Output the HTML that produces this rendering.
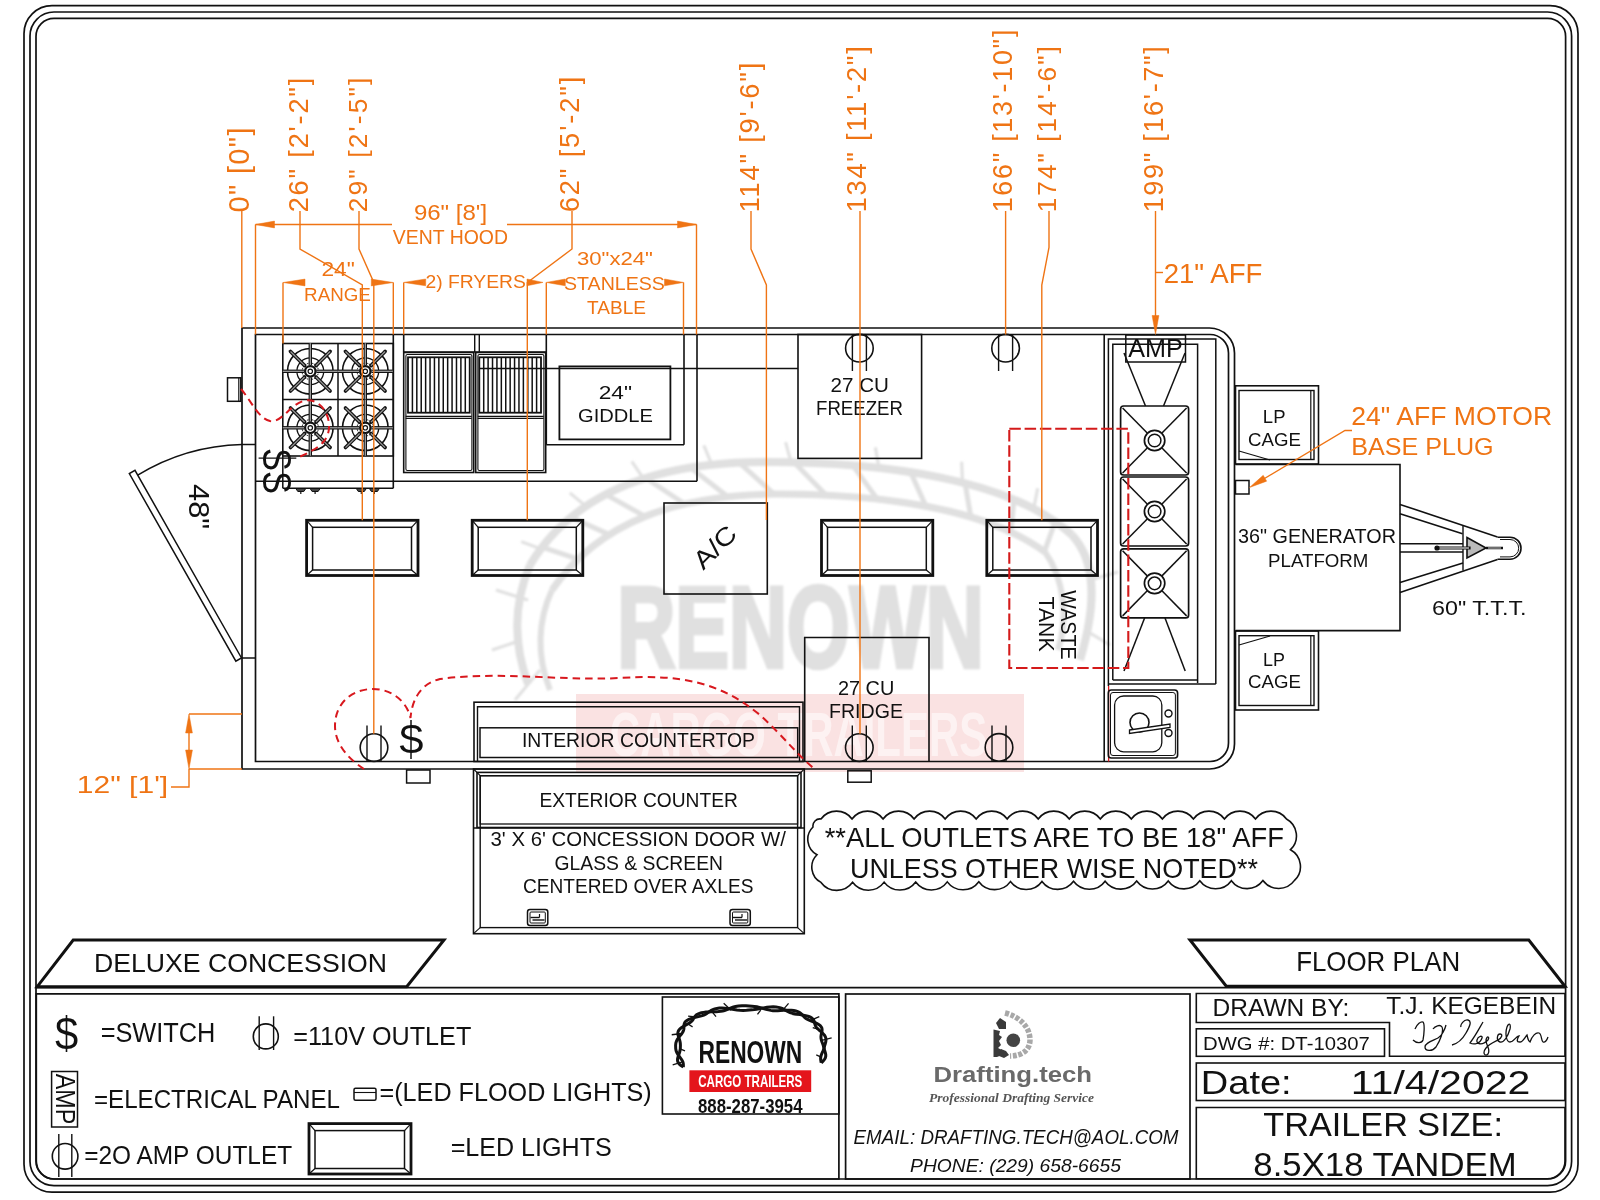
<!DOCTYPE html>
<html><head><meta charset="utf-8"><style>
html,body{margin:0;padding:0;background:#fff;}
svg{display:block;will-change:transform;}
</style></head><body>
<svg width="1600" height="1200" viewBox="0 0 1600 1200">
<rect width="1600" height="1200" fill="#fff"/>
<rect x="576" y="694" width="448" height="78" rx="0" fill="#fae2e2" stroke="#111" stroke-width="0" />
<text x="609.87" y="755.5" font-family="Liberation Sans" font-size="62.5" font-weight="bold" font-style="normal" fill="#fdf2f2" textLength="377.25" lengthAdjust="spacingAndGlyphs">CARGO TRAILERS</text>
<g filter="url(#wmblur)">
<defs><filter id="wmblur" x="-5%" y="-5%" width="110%" height="110%"><feGaussianBlur stdDeviation="0.8"/></filter></defs>
<text x="617.26" y="667" font-family="Liberation Sans" font-size="114.83" font-weight="bold" font-style="normal" fill="#e0e0e0" stroke="#e0e0e0" stroke-width="4.5" textLength="366.48" lengthAdjust="spacingAndGlyphs">RENOWN</text>
</g>
<g filter="url(#wmblur)" stroke-linejoin="round">
<path d="M530,565 C575,490 660,462 765,462 C880,462 1010,478 1072,535" fill="none" stroke="#e0e0e0" stroke-width="8" />
<path d="M552,590 C600,520 680,495 775,494 C880,494 985,508 1045,552" fill="none" stroke="#e0e0e0" stroke-width="7" />
<line x1="542.07" y1="547.22" x2="578.01" y2="559.21" stroke="#e0e0e0" stroke-width="5" />
<line x1="570.94" y1="517.27" x2="609.36" y2="534.65" stroke="#e0e0e0" stroke-width="5" />
<line x1="605.64" y1="494.35" x2="645.12" y2="516.43" stroke="#e0e0e0" stroke-width="5" />
<line x1="645.61" y1="477.96" x2="684.8" y2="503.97" stroke="#e0e0e0" stroke-width="5" />
<line x1="690.31" y1="467.55" x2="727.93" y2="496.69" stroke="#e0e0e0" stroke-width="5" />
<line x1="739.18" y1="462.59" x2="774.05" y2="494.01" stroke="#e0e0e0" stroke-width="5" />
<line x1="794.01" y1="462.35" x2="826.25" y2="495.19" stroke="#e0e0e0" stroke-width="5" />
<line x1="852.77" y1="465.39" x2="877.33" y2="499.15" stroke="#e0e0e0" stroke-width="5" />
<line x1="910.56" y1="472.14" x2="925.94" y2="506.32" stroke="#e0e0e0" stroke-width="5" />
<line x1="965.09" y1="483.3" x2="970.82" y2="517.15" stroke="#e0e0e0" stroke-width="5" />
<line x1="1014.05" y1="499.55" x2="1010.72" y2="532.08" stroke="#e0e0e0" stroke-width="5" />
<line x1="1055.13" y1="521.59" x2="1044.4" y2="551.56" stroke="#e0e0e0" stroke-width="5" />
<line x1="540.79" y1="548.91" x2="521.23" y2="541.6" stroke="#e0e0e0" stroke-width="3" />
<line x1="585.86" y1="506.12" x2="569.79" y2="492.79" stroke="#e0e0e0" stroke-width="3" />
<line x1="643.5" y1="478.63" x2="631.73" y2="461.38" stroke="#e0e0e0" stroke-width="3" />
<line x1="711.82" y1="464.67" x2="703.8" y2="445.4" stroke="#e0e0e0" stroke-width="3" />
<line x1="791.09" y1="462.28" x2="785.56" y2="442.15" stroke="#e0e0e0" stroke-width="3" />
<line x1="879.03" y1="467.93" x2="875.35" y2="447.37" stroke="#e0e0e0" stroke-width="3" />
<line x1="962.47" y1="482.62" x2="961.66" y2="461.76" stroke="#e0e0e0" stroke-width="3" />
<line x1="1033.65" y1="508.71" x2="1037.7" y2="488.22" stroke="#e0e0e0" stroke-width="3" />
<path d="M530,565 C515,600 512,640 528,684" fill="none" stroke="#e0e0e0" stroke-width="8" />
<path d="M552,590 C538,620 536,655 550,690" fill="none" stroke="#e0e0e0" stroke-width="6" />
<line x1="528" y1="600" x2="496" y2="590" stroke="#e0e0e0" stroke-width="3" />
<line x1="522" y1="640" x2="492" y2="650" stroke="#e0e0e0" stroke-width="3" />
<line x1="540" y1="670" x2="515" y2="700" stroke="#e0e0e0" stroke-width="3" />
<path d="M1072,535 C1095,560 1098,600 1080,660" fill="none" stroke="#e0e0e0" stroke-width="8" />
<path d="M1045,552 C1065,580 1068,620 1058,650" fill="none" stroke="#e0e0e0" stroke-width="6" />
<line x1="1090" y1="580" x2="1118" y2="572" stroke="#e0e0e0" stroke-width="3" />
<line x1="1085" y1="630" x2="1110" y2="645" stroke="#e0e0e0" stroke-width="3" />
</g>
<rect x="24" y="5.6" width="1554" height="1186.6" rx="28" fill="none" stroke="#111" stroke-width="1.7" />
<rect x="30" y="12" width="1541.6" height="1173.6" rx="24" fill="none" stroke="#111" stroke-width="1.7" />
<rect x="36" y="18.4" width="1529.6" height="1160.6" rx="18" fill="none" stroke="#111" stroke-width="1.7" />
<path d="M242,328 H1209.5 A25,25 0 0 1 1234.5,353 V744 A25,25 0 0 1 1209.5,769 H242 Z" fill="none" stroke="#111" stroke-width="1.7" />
<path d="M255.5,334.5 H1210 A18.5,18.5 0 0 1 1228.5,353 V743 A18.5,18.5 0 0 1 1210,761.5 H255.5 Z" fill="none" stroke="#111" stroke-width="1.7" />
<line x1="242" y1="444.5" x2="255.5" y2="444.5" stroke="#111" stroke-width="1.5" />
<line x1="242" y1="658" x2="255.5" y2="658" stroke="#111" stroke-width="1.5" />
<path d="M242,444.5 A210.5,210.5 0 0 0 137.71,475.15" fill="none" stroke="#111" stroke-width="1.5" />
<path d="M241.5,658 L134.99,470.37 L129.34,473.59 L235.85,661.22 Z" fill="none" stroke="#111" stroke-width="1.5" />
<rect x="227.5" y="377.8" width="13.3" height="23.5" rx="0" fill="none" stroke="#111" stroke-width="1.5" />
<line x1="238.8" y1="377.8" x2="238.8" y2="401.3" stroke="#111" stroke-width="1.2" />
<line x1="282.8" y1="334.5" x2="282.8" y2="343.5" stroke="#111" stroke-width="1.5" />
<rect x="282.8" y="343.5" width="110.5" height="112.5" rx="0" fill="none" stroke="#111" stroke-width="1.6" />
<line x1="338" y1="343.5" x2="338" y2="456" stroke="#111" stroke-width="1.5" />
<line x1="282.8" y1="399.5" x2="393.3" y2="399.5" stroke="#111" stroke-width="1.5" />
<line x1="393.3" y1="334.5" x2="393.3" y2="488.3" stroke="#111" stroke-width="1.6" />
<line x1="282.8" y1="456" x2="282.8" y2="488.3" stroke="#111" stroke-width="1.5" />
<line x1="282.8" y1="488.3" x2="393.3" y2="488.3" stroke="#111" stroke-width="1.6" />
<line x1="255.5" y1="481.3" x2="697" y2="481.3" stroke="#111" stroke-width="1.6" />
<line x1="697" y1="334.5" x2="697" y2="481.3" stroke="#111" stroke-width="1.6" />
<path d="M295.8,488.5 L305.8,488.5 L303.8,491.5 L297.8,491.5 Z" fill="#444" stroke="#111" stroke-width="1.0" />
<line x1="300.8" y1="491.5" x2="300.8" y2="494" stroke="#111" stroke-width="1.2" />
<path d="M310.1,488.5 L320.1,488.5 L318.1,491.5 L312.1,491.5 Z" fill="#444" stroke="#111" stroke-width="1.0" />
<line x1="315.1" y1="491.5" x2="315.1" y2="494" stroke="#111" stroke-width="1.2" />
<path d="M356.3,488.5 L366.3,488.5 L364.3,491.5 L358.3,491.5 Z" fill="#444" stroke="#111" stroke-width="1.0" />
<line x1="361.3" y1="491.5" x2="361.3" y2="494" stroke="#111" stroke-width="1.2" />
<path d="M369.4,488.5 L379.4,488.5 L377.4,491.5 L371.4,491.5 Z" fill="#444" stroke="#111" stroke-width="1.0" />
<line x1="374.4" y1="491.5" x2="374.4" y2="494" stroke="#111" stroke-width="1.2" />
<circle cx="310.3" cy="371.3" r="22.8" fill="none" stroke="#111" stroke-width="1.6" />
<circle cx="310.3" cy="371.3" r="13.4" fill="none" stroke="#111" stroke-width="1.3" />
<circle cx="310.3" cy="371.3" r="8.2" fill="none" stroke="#111" stroke-width="1.0" stroke-dasharray="1.5 1"/>
<line x1="282.8" y1="371.3" x2="304.3" y2="371.3" stroke="#111" stroke-width="3.4" />
<line x1="282.8" y1="371.3" x2="304.3" y2="371.3" stroke="#aaa" stroke-width="1.2" />
<line x1="316.3" y1="371.3" x2="337.8" y2="371.3" stroke="#111" stroke-width="3.4" />
<line x1="316.3" y1="371.3" x2="337.8" y2="371.3" stroke="#aaa" stroke-width="1.2" />
<line x1="310.3" y1="343.3" x2="310.3" y2="365.3" stroke="#111" stroke-width="3.4" />
<line x1="310.3" y1="343.3" x2="310.3" y2="365.3" stroke="#aaa" stroke-width="1.2" />
<line x1="310.3" y1="377.3" x2="310.3" y2="399.3" stroke="#111" stroke-width="3.4" />
<line x1="310.3" y1="377.3" x2="310.3" y2="399.3" stroke="#aaa" stroke-width="1.2" />
<line x1="315.96" y1="376.96" x2="330.1" y2="391.1" stroke="#111" stroke-width="3.6" stroke-linecap="round"/>
<line x1="315.96" y1="376.96" x2="330.1" y2="391.1" stroke="#999" stroke-width="1.3" />
<line x1="304.64" y1="376.96" x2="290.5" y2="391.1" stroke="#111" stroke-width="3.6" stroke-linecap="round"/>
<line x1="304.64" y1="376.96" x2="290.5" y2="391.1" stroke="#999" stroke-width="1.3" />
<line x1="304.64" y1="365.64" x2="290.5" y2="351.5" stroke="#111" stroke-width="3.6" stroke-linecap="round"/>
<line x1="304.64" y1="365.64" x2="290.5" y2="351.5" stroke="#999" stroke-width="1.3" />
<line x1="315.96" y1="365.64" x2="330.1" y2="351.5" stroke="#111" stroke-width="3.6" stroke-linecap="round"/>
<line x1="315.96" y1="365.64" x2="330.1" y2="351.5" stroke="#999" stroke-width="1.3" />
<circle cx="310.3" cy="371.3" r="5.2" fill="none" stroke="#111" stroke-width="2.2" />
<circle cx="310.3" cy="371.3" r="2.2" fill="#fff" stroke="#111" stroke-width="1.2" />
<circle cx="365.3" cy="371.3" r="22.8" fill="none" stroke="#111" stroke-width="1.6" />
<circle cx="365.3" cy="371.3" r="13.4" fill="none" stroke="#111" stroke-width="1.3" />
<circle cx="365.3" cy="371.3" r="8.2" fill="none" stroke="#111" stroke-width="1.0" stroke-dasharray="1.5 1"/>
<line x1="337.8" y1="371.3" x2="359.3" y2="371.3" stroke="#111" stroke-width="3.4" />
<line x1="337.8" y1="371.3" x2="359.3" y2="371.3" stroke="#aaa" stroke-width="1.2" />
<line x1="371.3" y1="371.3" x2="392.8" y2="371.3" stroke="#111" stroke-width="3.4" />
<line x1="371.3" y1="371.3" x2="392.8" y2="371.3" stroke="#aaa" stroke-width="1.2" />
<line x1="365.3" y1="343.3" x2="365.3" y2="365.3" stroke="#111" stroke-width="3.4" />
<line x1="365.3" y1="343.3" x2="365.3" y2="365.3" stroke="#aaa" stroke-width="1.2" />
<line x1="365.3" y1="377.3" x2="365.3" y2="399.3" stroke="#111" stroke-width="3.4" />
<line x1="365.3" y1="377.3" x2="365.3" y2="399.3" stroke="#aaa" stroke-width="1.2" />
<line x1="370.96" y1="376.96" x2="385.1" y2="391.1" stroke="#111" stroke-width="3.6" stroke-linecap="round"/>
<line x1="370.96" y1="376.96" x2="385.1" y2="391.1" stroke="#999" stroke-width="1.3" />
<line x1="359.64" y1="376.96" x2="345.5" y2="391.1" stroke="#111" stroke-width="3.6" stroke-linecap="round"/>
<line x1="359.64" y1="376.96" x2="345.5" y2="391.1" stroke="#999" stroke-width="1.3" />
<line x1="359.64" y1="365.64" x2="345.5" y2="351.5" stroke="#111" stroke-width="3.6" stroke-linecap="round"/>
<line x1="359.64" y1="365.64" x2="345.5" y2="351.5" stroke="#999" stroke-width="1.3" />
<line x1="370.96" y1="365.64" x2="385.1" y2="351.5" stroke="#111" stroke-width="3.6" stroke-linecap="round"/>
<line x1="370.96" y1="365.64" x2="385.1" y2="351.5" stroke="#999" stroke-width="1.3" />
<circle cx="365.3" cy="371.3" r="5.2" fill="none" stroke="#111" stroke-width="2.2" />
<circle cx="365.3" cy="371.3" r="2.2" fill="#fff" stroke="#111" stroke-width="1.2" />
<circle cx="310.3" cy="427.8" r="22.8" fill="none" stroke="#111" stroke-width="1.6" />
<circle cx="310.3" cy="427.8" r="13.4" fill="none" stroke="#111" stroke-width="1.3" />
<circle cx="310.3" cy="427.8" r="8.2" fill="none" stroke="#111" stroke-width="1.0" stroke-dasharray="1.5 1"/>
<line x1="282.8" y1="427.8" x2="304.3" y2="427.8" stroke="#111" stroke-width="3.4" />
<line x1="282.8" y1="427.8" x2="304.3" y2="427.8" stroke="#aaa" stroke-width="1.2" />
<line x1="316.3" y1="427.8" x2="337.8" y2="427.8" stroke="#111" stroke-width="3.4" />
<line x1="316.3" y1="427.8" x2="337.8" y2="427.8" stroke="#aaa" stroke-width="1.2" />
<line x1="310.3" y1="399.8" x2="310.3" y2="421.8" stroke="#111" stroke-width="3.4" />
<line x1="310.3" y1="399.8" x2="310.3" y2="421.8" stroke="#aaa" stroke-width="1.2" />
<line x1="310.3" y1="433.8" x2="310.3" y2="455.8" stroke="#111" stroke-width="3.4" />
<line x1="310.3" y1="433.8" x2="310.3" y2="455.8" stroke="#aaa" stroke-width="1.2" />
<line x1="315.96" y1="433.46" x2="330.1" y2="447.6" stroke="#111" stroke-width="3.6" stroke-linecap="round"/>
<line x1="315.96" y1="433.46" x2="330.1" y2="447.6" stroke="#999" stroke-width="1.3" />
<line x1="304.64" y1="433.46" x2="290.5" y2="447.6" stroke="#111" stroke-width="3.6" stroke-linecap="round"/>
<line x1="304.64" y1="433.46" x2="290.5" y2="447.6" stroke="#999" stroke-width="1.3" />
<line x1="304.64" y1="422.14" x2="290.5" y2="408" stroke="#111" stroke-width="3.6" stroke-linecap="round"/>
<line x1="304.64" y1="422.14" x2="290.5" y2="408" stroke="#999" stroke-width="1.3" />
<line x1="315.96" y1="422.14" x2="330.1" y2="408" stroke="#111" stroke-width="3.6" stroke-linecap="round"/>
<line x1="315.96" y1="422.14" x2="330.1" y2="408" stroke="#999" stroke-width="1.3" />
<circle cx="310.3" cy="427.8" r="5.2" fill="none" stroke="#111" stroke-width="2.2" />
<circle cx="310.3" cy="427.8" r="2.2" fill="#fff" stroke="#111" stroke-width="1.2" />
<circle cx="365.3" cy="427.8" r="22.8" fill="none" stroke="#111" stroke-width="1.6" />
<circle cx="365.3" cy="427.8" r="13.4" fill="none" stroke="#111" stroke-width="1.3" />
<circle cx="365.3" cy="427.8" r="8.2" fill="none" stroke="#111" stroke-width="1.0" stroke-dasharray="1.5 1"/>
<line x1="337.8" y1="427.8" x2="359.3" y2="427.8" stroke="#111" stroke-width="3.4" />
<line x1="337.8" y1="427.8" x2="359.3" y2="427.8" stroke="#aaa" stroke-width="1.2" />
<line x1="371.3" y1="427.8" x2="392.8" y2="427.8" stroke="#111" stroke-width="3.4" />
<line x1="371.3" y1="427.8" x2="392.8" y2="427.8" stroke="#aaa" stroke-width="1.2" />
<line x1="365.3" y1="399.8" x2="365.3" y2="421.8" stroke="#111" stroke-width="3.4" />
<line x1="365.3" y1="399.8" x2="365.3" y2="421.8" stroke="#aaa" stroke-width="1.2" />
<line x1="365.3" y1="433.8" x2="365.3" y2="455.8" stroke="#111" stroke-width="3.4" />
<line x1="365.3" y1="433.8" x2="365.3" y2="455.8" stroke="#aaa" stroke-width="1.2" />
<line x1="370.96" y1="433.46" x2="385.1" y2="447.6" stroke="#111" stroke-width="3.6" stroke-linecap="round"/>
<line x1="370.96" y1="433.46" x2="385.1" y2="447.6" stroke="#999" stroke-width="1.3" />
<line x1="359.64" y1="433.46" x2="345.5" y2="447.6" stroke="#111" stroke-width="3.6" stroke-linecap="round"/>
<line x1="359.64" y1="433.46" x2="345.5" y2="447.6" stroke="#999" stroke-width="1.3" />
<line x1="359.64" y1="422.14" x2="345.5" y2="408" stroke="#111" stroke-width="3.6" stroke-linecap="round"/>
<line x1="359.64" y1="422.14" x2="345.5" y2="408" stroke="#999" stroke-width="1.3" />
<line x1="370.96" y1="422.14" x2="385.1" y2="408" stroke="#111" stroke-width="3.6" stroke-linecap="round"/>
<line x1="370.96" y1="422.14" x2="385.1" y2="408" stroke="#999" stroke-width="1.3" />
<circle cx="365.3" cy="427.8" r="5.2" fill="none" stroke="#111" stroke-width="2.2" />
<circle cx="365.3" cy="427.8" r="2.2" fill="#fff" stroke="#111" stroke-width="1.2" />
<text x="0" y="0" font-family="Liberation Sans" font-size="41" fill="#111" transform="translate(263 448) rotate(90)" textLength="46" lengthAdjust="spacingAndGlyphs">SS</text>
<line x1="258.6" y1="458.1" x2="296.3" y2="458.1" stroke="#111" stroke-width="1.4" />
<line x1="403.7" y1="334.5" x2="403.7" y2="352" stroke="#111" stroke-width="1.6" />
<line x1="474.7" y1="334.5" x2="474.7" y2="352" stroke="#111" stroke-width="1.4" />
<line x1="479.3" y1="334.5" x2="479.3" y2="352" stroke="#111" stroke-width="1.4" />
<line x1="546.3" y1="334.5" x2="546.3" y2="444.7" stroke="#111" stroke-width="1.6" />
<line x1="403.7" y1="352" x2="546.3" y2="352" stroke="#111" stroke-width="1.6" />
<rect x="403.7" y="352.5" width="70" height="120" rx="0" fill="none" stroke="#111" stroke-width="1.6" />
<rect x="405.9" y="354.5" width="66" height="116" rx="1.5" fill="none" stroke="#111" stroke-width="1.1" />
<rect x="408" y="357.3" width="61.7" height="55.4" rx="0" fill="none" stroke="#111" stroke-width="1.8" />
<line x1="412.41" y1="358" x2="412.41" y2="412" stroke="#111" stroke-width="1.5" />
<line x1="416.81" y1="358" x2="416.81" y2="412" stroke="#111" stroke-width="1.5" />
<line x1="421.22" y1="358" x2="421.22" y2="412" stroke="#111" stroke-width="1.5" />
<line x1="425.63" y1="358" x2="425.63" y2="412" stroke="#111" stroke-width="1.5" />
<line x1="430.04" y1="358" x2="430.04" y2="412" stroke="#111" stroke-width="1.5" />
<line x1="434.44" y1="358" x2="434.44" y2="412" stroke="#111" stroke-width="1.5" />
<line x1="438.85" y1="358" x2="438.85" y2="412" stroke="#111" stroke-width="1.5" />
<line x1="443.26" y1="358" x2="443.26" y2="412" stroke="#111" stroke-width="1.5" />
<line x1="447.66" y1="358" x2="447.66" y2="412" stroke="#111" stroke-width="1.5" />
<line x1="452.07" y1="358" x2="452.07" y2="412" stroke="#111" stroke-width="1.5" />
<line x1="456.48" y1="358" x2="456.48" y2="412" stroke="#111" stroke-width="1.5" />
<line x1="460.89" y1="358" x2="460.89" y2="412" stroke="#111" stroke-width="1.5" />
<line x1="465.29" y1="358" x2="465.29" y2="412" stroke="#111" stroke-width="1.5" />
<line x1="405.7" y1="416.5" x2="471.7" y2="416.5" stroke="#111" stroke-width="1.3" />
<line x1="405.7" y1="418.5" x2="471.7" y2="418.5" stroke="#111" stroke-width="1.0" />
<rect x="475.7" y="352.5" width="70" height="120" rx="0" fill="none" stroke="#111" stroke-width="1.6" />
<rect x="477.9" y="354.5" width="66" height="116" rx="1.5" fill="none" stroke="#111" stroke-width="1.1" />
<rect x="479.3" y="357.3" width="61.7" height="55.4" rx="0" fill="none" stroke="#111" stroke-width="1.8" />
<line x1="483.71" y1="358" x2="483.71" y2="412" stroke="#111" stroke-width="1.5" />
<line x1="488.11" y1="358" x2="488.11" y2="412" stroke="#111" stroke-width="1.5" />
<line x1="492.52" y1="358" x2="492.52" y2="412" stroke="#111" stroke-width="1.5" />
<line x1="496.93" y1="358" x2="496.93" y2="412" stroke="#111" stroke-width="1.5" />
<line x1="501.34" y1="358" x2="501.34" y2="412" stroke="#111" stroke-width="1.5" />
<line x1="505.74" y1="358" x2="505.74" y2="412" stroke="#111" stroke-width="1.5" />
<line x1="510.15" y1="358" x2="510.15" y2="412" stroke="#111" stroke-width="1.5" />
<line x1="514.56" y1="358" x2="514.56" y2="412" stroke="#111" stroke-width="1.5" />
<line x1="518.96" y1="358" x2="518.96" y2="412" stroke="#111" stroke-width="1.5" />
<line x1="523.37" y1="358" x2="523.37" y2="412" stroke="#111" stroke-width="1.5" />
<line x1="527.78" y1="358" x2="527.78" y2="412" stroke="#111" stroke-width="1.5" />
<line x1="532.19" y1="358" x2="532.19" y2="412" stroke="#111" stroke-width="1.5" />
<line x1="536.59" y1="358" x2="536.59" y2="412" stroke="#111" stroke-width="1.5" />
<line x1="477.7" y1="416.5" x2="543.7" y2="416.5" stroke="#111" stroke-width="1.3" />
<line x1="477.7" y1="418.5" x2="543.7" y2="418.5" stroke="#111" stroke-width="1.0" />
<line x1="479.3" y1="368.4" x2="798" y2="368.4" stroke="#111" stroke-width="1.5" />
<line x1="546.3" y1="444.7" x2="684" y2="444.7" stroke="#111" stroke-width="1.6" />
<line x1="684" y1="334.5" x2="684" y2="444.7" stroke="#111" stroke-width="1.6" />
<rect x="559.4" y="366.4" width="111" height="73" rx="0" fill="none" stroke="#111" stroke-width="1.8" />
<text x="598.66" y="398.5" font-family="Liberation Sans" font-size="18.9" font-weight="normal" font-style="normal" fill="#111" textLength="33.29" lengthAdjust="spacingAndGlyphs">24"</text>
<text x="578.06" y="422" font-family="Liberation Sans" font-size="18.9" font-weight="normal" font-style="normal" fill="#111" textLength="74.89" lengthAdjust="spacingAndGlyphs">GIDDLE</text>
<rect x="798" y="334.5" width="123.6" height="123.9" rx="0" fill="none" stroke="#111" stroke-width="1.6" />
<text x="830.61" y="391.6" font-family="Liberation Sans" font-size="19.77" font-weight="normal" font-style="normal" fill="#111" textLength="58.38" lengthAdjust="spacingAndGlyphs">27 CU</text>
<text x="816.03" y="415" font-family="Liberation Sans" font-size="19.48" font-weight="normal" font-style="normal" fill="#111" textLength="86.95" lengthAdjust="spacingAndGlyphs">FREEZER</text>
<circle cx="859.4" cy="348.2" r="13.8" fill="none" stroke="#111" stroke-width="1.6" />
<line x1="852.4" y1="334.5" x2="852.4" y2="371" stroke="#111" stroke-width="1.4" />
<line x1="866.4" y1="334.5" x2="866.4" y2="371" stroke="#111" stroke-width="1.4" />
<circle cx="1005.6" cy="348.2" r="13.8" fill="none" stroke="#111" stroke-width="1.6" />
<line x1="998.6" y1="334.5" x2="998.6" y2="371" stroke="#111" stroke-width="1.4" />
<line x1="1012.6" y1="334.5" x2="1012.6" y2="371" stroke="#111" stroke-width="1.4" />
<circle cx="374" cy="747.6" r="13.8" fill="none" stroke="#111" stroke-width="1.6" />
<line x1="367" y1="725.5" x2="367" y2="761.5" stroke="#111" stroke-width="1.4" />
<line x1="381" y1="725.5" x2="381" y2="761.5" stroke="#111" stroke-width="1.4" />
<circle cx="859.3" cy="747.6" r="13.8" fill="none" stroke="#111" stroke-width="1.6" />
<line x1="852.3" y1="725.5" x2="852.3" y2="761.5" stroke="#111" stroke-width="1.4" />
<line x1="866.3" y1="725.5" x2="866.3" y2="761.5" stroke="#111" stroke-width="1.4" />
<circle cx="999" cy="747.4" r="13.8" fill="none" stroke="#111" stroke-width="1.6" />
<line x1="992" y1="725.5" x2="992" y2="761.5" stroke="#111" stroke-width="1.4" />
<line x1="1006" y1="725.5" x2="1006" y2="761.5" stroke="#111" stroke-width="1.4" />
<rect x="306.6" y="520.3" width="111.4" height="55.2" rx="0" fill="none" stroke="#111" stroke-width="2.8" />
<rect x="312.6" y="527.3" width="98.9" height="42.7" rx="0" fill="none" stroke="#111" stroke-width="1.5" />
<line x1="306.6" y1="520.3" x2="312.6" y2="527.3" stroke="#111" stroke-width="1.2" />
<line x1="418" y1="520.3" x2="411.5" y2="527.3" stroke="#111" stroke-width="1.2" />
<line x1="306.6" y1="575.5" x2="312.6" y2="570" stroke="#111" stroke-width="1.2" />
<line x1="418" y1="575.5" x2="411.5" y2="570" stroke="#111" stroke-width="1.2" />
<rect x="472.2" y="520.3" width="110.6" height="55.2" rx="0" fill="none" stroke="#111" stroke-width="2.8" />
<rect x="478.2" y="527.3" width="98.1" height="42.7" rx="0" fill="none" stroke="#111" stroke-width="1.5" />
<line x1="472.2" y1="520.3" x2="478.2" y2="527.3" stroke="#111" stroke-width="1.2" />
<line x1="582.8" y1="520.3" x2="576.3" y2="527.3" stroke="#111" stroke-width="1.2" />
<line x1="472.2" y1="575.5" x2="478.2" y2="570" stroke="#111" stroke-width="1.2" />
<line x1="582.8" y1="575.5" x2="576.3" y2="570" stroke="#111" stroke-width="1.2" />
<rect x="821.5" y="520.3" width="111.3" height="55.2" rx="0" fill="none" stroke="#111" stroke-width="2.8" />
<rect x="827.5" y="527.3" width="98.8" height="42.7" rx="0" fill="none" stroke="#111" stroke-width="1.5" />
<line x1="821.5" y1="520.3" x2="827.5" y2="527.3" stroke="#111" stroke-width="1.2" />
<line x1="932.8" y1="520.3" x2="926.3" y2="527.3" stroke="#111" stroke-width="1.2" />
<line x1="821.5" y1="575.5" x2="827.5" y2="570" stroke="#111" stroke-width="1.2" />
<line x1="932.8" y1="575.5" x2="926.3" y2="570" stroke="#111" stroke-width="1.2" />
<rect x="986.8" y="520.3" width="110.7" height="55.2" rx="0" fill="none" stroke="#111" stroke-width="2.8" />
<rect x="992.8" y="527.3" width="98.2" height="42.7" rx="0" fill="none" stroke="#111" stroke-width="1.5" />
<line x1="986.8" y1="520.3" x2="992.8" y2="527.3" stroke="#111" stroke-width="1.2" />
<line x1="1097.5" y1="520.3" x2="1091" y2="527.3" stroke="#111" stroke-width="1.2" />
<line x1="986.8" y1="575.5" x2="992.8" y2="570" stroke="#111" stroke-width="1.2" />
<line x1="1097.5" y1="575.5" x2="1091" y2="570" stroke="#111" stroke-width="1.2" />
<rect x="664" y="503" width="103.3" height="91" rx="0" fill="none" stroke="#111" stroke-width="1.6" />
<text x="0" y="0" font-family="Liberation Sans" font-size="25" fill="#111" text-anchor="middle" transform="translate(721 553) rotate(-45)" textLength="50" lengthAdjust="spacingAndGlyphs">A/C</text>
<path d="M804.7,761.5 V637.5 H929 V761.5" fill="none" stroke="#111" stroke-width="1.6" />
<text x="837.98" y="694.5" font-family="Liberation Sans" font-size="20.35" font-weight="normal" font-style="normal" fill="#111" textLength="56.33" lengthAdjust="spacingAndGlyphs">27 CU</text>
<text x="828.98" y="718.3" font-family="Liberation Sans" font-size="20.35" font-weight="normal" font-style="normal" fill="#111" textLength="74.03" lengthAdjust="spacingAndGlyphs">FRIDGE</text>
<rect x="474" y="702.2" width="329" height="59.3" rx="0" fill="none" stroke="#111" stroke-width="1.6" />
<path d="M477.5,761.5 V706.8 H799.5 V761.5" fill="none" stroke="#111" stroke-width="1.4" />
<rect x="480" y="727.8" width="317.7" height="29.7" rx="0" fill="none" stroke="#111" stroke-width="1.5" />
<text x="521.95" y="747" font-family="Liberation Sans" font-size="21.08" font-weight="normal" font-style="normal" fill="#111" textLength="233.11" lengthAdjust="spacingAndGlyphs">INTERIOR COUNTERTOP</text>
<rect x="473.5" y="769" width="330.8" height="164.7" rx="0" fill="none" stroke="#111" stroke-width="1.6" />
<rect x="480.2" y="775.7" width="317.4" height="151.9" rx="0" fill="none" stroke="#111" stroke-width="1.4" />
<line x1="473.5" y1="769" x2="480.2" y2="775.7" stroke="#111" stroke-width="1.1" />
<line x1="804.3" y1="769" x2="797.6" y2="775.7" stroke="#111" stroke-width="1.1" />
<line x1="473.5" y1="933.7" x2="480.2" y2="927.6" stroke="#111" stroke-width="1.1" />
<line x1="804.3" y1="933.7" x2="797.6" y2="927.6" stroke="#111" stroke-width="1.1" />
<rect x="477" y="772.4" width="324" height="55.1" rx="0" fill="none" stroke="#111" stroke-width="1.6" />
<rect x="480.2" y="775.7" width="317.4" height="48.3" rx="0" fill="none" stroke="#111" stroke-width="1.3" />
<line x1="473.5" y1="828" x2="804.3" y2="828" stroke="#111" stroke-width="1.3" />
<text x="539.48" y="807.3" font-family="Liberation Sans" font-size="20.35" font-weight="normal" font-style="normal" fill="#111" textLength="198.33" lengthAdjust="spacingAndGlyphs">EXTERIOR COUNTER</text>
<text x="490.52" y="846" font-family="Liberation Sans" font-size="19.62" font-weight="normal" font-style="normal" fill="#111" textLength="295.46" lengthAdjust="spacingAndGlyphs">3' X 6' CONCESSION DOOR W/</text>
<text x="554.58" y="869.6" font-family="Liberation Sans" font-size="20.35" font-weight="normal" font-style="normal" fill="#111" textLength="168.43" lengthAdjust="spacingAndGlyphs">GLASS &amp; SCREEN</text>
<text x="523.02" y="892.8" font-family="Liberation Sans" font-size="19.62" font-weight="normal" font-style="normal" fill="#111" textLength="230.46" lengthAdjust="spacingAndGlyphs">CENTERED OVER AXLES</text>
<rect x="527.5" y="909.6" width="20.3" height="15.8" rx="2.5" fill="none" stroke="#111" stroke-width="1.5" />
<rect x="530" y="912" width="15.3" height="11" rx="1" fill="none" stroke="#111" stroke-width="1.0" />
<line x1="530.5" y1="917.5" x2="539.5" y2="917.5" stroke="#111" stroke-width="1.4" />
<line x1="539.5" y1="914" x2="539.5" y2="917.5" stroke="#111" stroke-width="1.2" />
<line x1="532.5" y1="920" x2="544.5" y2="920" stroke="#111" stroke-width="1.4" />
<rect x="730" y="909.6" width="20.3" height="15.8" rx="2.5" fill="none" stroke="#111" stroke-width="1.5" />
<rect x="732.5" y="912" width="15.3" height="11" rx="1" fill="none" stroke="#111" stroke-width="1.0" />
<line x1="733" y1="917.5" x2="742" y2="917.5" stroke="#111" stroke-width="1.4" />
<line x1="742" y1="914" x2="742" y2="917.5" stroke="#111" stroke-width="1.2" />
<line x1="735" y1="920" x2="747" y2="920" stroke="#111" stroke-width="1.4" />
<text x="397.93" y="752.5" font-family="Liberation Sans" font-size="41.43" font-weight="normal" font-style="normal" fill="#111" textLength="26.54" lengthAdjust="spacingAndGlyphs">S</text>
<line x1="411" y1="720" x2="411" y2="759" stroke="#111" stroke-width="1.5" />
<rect x="406.6" y="770" width="23.4" height="13" rx="0" fill="none" stroke="#111" stroke-width="1.5" />
<rect x="847.8" y="770.8" width="23.4" height="11.4" rx="0" fill="none" stroke="#111" stroke-width="1.5" />
<line x1="1104.2" y1="334.5" x2="1104.2" y2="761.5" stroke="#111" stroke-width="1.6" />
<path d="M1108.4,686 V339 H1215.8 V684" fill="none" stroke="#111" stroke-width="1.5" />
<path d="M1112.8,680 V344.2 H1197.6 V683" fill="none" stroke="#111" stroke-width="1.5" />
<line x1="1108.4" y1="684" x2="1215.8" y2="684" stroke="#111" stroke-width="1.5" />
<line x1="1112.8" y1="680" x2="1197.6" y2="680" stroke="#111" stroke-width="1.5" />
<rect x="1125.8" y="335" width="59.7" height="27" rx="0" fill="none" stroke="#111" stroke-width="1.5" />
<text x="1128.23" y="357" font-family="Liberation Sans" font-size="25.44" font-weight="normal" font-style="normal" fill="#111" textLength="54.54" lengthAdjust="spacingAndGlyphs">AMP</text>
<path d="M1124,353 L1145.5,406" fill="none" stroke="#111" stroke-width="1.5" />
<path d="M1185,353 L1163.5,406" fill="none" stroke="#111" stroke-width="1.5" />
<rect x="1120.6" y="406" width="68" height="69" rx="3" fill="none" stroke="#111" stroke-width="1.7" />
<line x1="1122.6" y1="408" x2="1147.23" y2="433.02" stroke="#111" stroke-width="1.5" />
<line x1="1186.6" y1="408" x2="1161.97" y2="433.02" stroke="#111" stroke-width="1.5" />
<line x1="1122.6" y1="473" x2="1147.23" y2="447.98" stroke="#111" stroke-width="1.5" />
<line x1="1186.6" y1="473" x2="1161.97" y2="447.98" stroke="#111" stroke-width="1.5" />
<circle cx="1154.6" cy="440.5" r="10.2" fill="none" stroke="#111" stroke-width="1.7" />
<circle cx="1154.6" cy="440.5" r="6.3" fill="none" stroke="#111" stroke-width="1.5" />
<rect x="1120.6" y="477" width="68" height="69" rx="3" fill="none" stroke="#111" stroke-width="1.7" />
<line x1="1122.6" y1="479" x2="1147.23" y2="504.02" stroke="#111" stroke-width="1.5" />
<line x1="1186.6" y1="479" x2="1161.97" y2="504.02" stroke="#111" stroke-width="1.5" />
<line x1="1122.6" y1="544" x2="1147.23" y2="518.98" stroke="#111" stroke-width="1.5" />
<line x1="1186.6" y1="544" x2="1161.97" y2="518.98" stroke="#111" stroke-width="1.5" />
<circle cx="1154.6" cy="511.5" r="10.2" fill="none" stroke="#111" stroke-width="1.7" />
<circle cx="1154.6" cy="511.5" r="6.3" fill="none" stroke="#111" stroke-width="1.5" />
<rect x="1120.6" y="548.8" width="68" height="69.1" rx="3" fill="none" stroke="#111" stroke-width="1.7" />
<line x1="1122.6" y1="550.8" x2="1147.24" y2="575.86" stroke="#111" stroke-width="1.5" />
<line x1="1186.6" y1="550.8" x2="1161.96" y2="575.86" stroke="#111" stroke-width="1.5" />
<line x1="1122.6" y1="615.9" x2="1147.24" y2="590.84" stroke="#111" stroke-width="1.5" />
<line x1="1186.6" y1="615.9" x2="1161.96" y2="590.84" stroke="#111" stroke-width="1.5" />
<circle cx="1154.6" cy="583.35" r="10.2" fill="none" stroke="#111" stroke-width="1.7" />
<circle cx="1154.6" cy="583.35" r="6.3" fill="none" stroke="#111" stroke-width="1.5" />
<path d="M1144.6,618 L1124,671" fill="none" stroke="#111" stroke-width="1.5" />
<path d="M1165,618 L1185.2,671" fill="none" stroke="#111" stroke-width="1.5" />
<line x1="1108.6" y1="686" x2="1108.6" y2="761.5" stroke="#D8181E" stroke-width="1.3" />
<rect x="1108.3" y="690" width="69.3" height="68" rx="3" fill="none" stroke="#111" stroke-width="1.6" />
<rect x="1110.5" y="692.5" width="64.9" height="63" rx="2.5" fill="none" stroke="#111" stroke-width="1.0" />
<rect x="1114.6" y="696" width="47.2" height="55.8" rx="9" fill="none" stroke="#111" stroke-width="1.3" />
<circle cx="1139.5" cy="722.5" r="9.5" fill="none" stroke="#111" stroke-width="1.6" />
<path d="M1129.5,730 L1170,724 L1170,727.5 L1129.5,733.5 Z" fill="#fff" stroke="#111" stroke-width="1.3" />
<circle cx="1168.5" cy="713.5" r="3.5" fill="none" stroke="#111" stroke-width="1.4" />
<circle cx="1168.5" cy="733" r="3.5" fill="none" stroke="#111" stroke-width="1.4" />
<rect x="1235.5" y="385.8" width="83" height="78.2" rx="0" fill="none" stroke="#111" stroke-width="1.6" />
<rect x="1239" y="390.5" width="75" height="69" rx="0" fill="none" stroke="#111" stroke-width="1.4" />
<line x1="1310.8" y1="390.5" x2="1310.8" y2="459.5" stroke="#111" stroke-width="1.2" />
<rect x="1235.5" y="631" width="83" height="79" rx="0" fill="none" stroke="#111" stroke-width="1.6" />
<rect x="1239" y="635.7" width="75" height="69.8" rx="0" fill="none" stroke="#111" stroke-width="1.4" />
<line x1="1310.8" y1="635.7" x2="1310.8" y2="705.5" stroke="#111" stroke-width="1.2" />
<line x1="1239" y1="451" x2="1270" y2="460" stroke="#111" stroke-width="1.2" />
<line x1="1239" y1="645" x2="1270" y2="636" stroke="#111" stroke-width="1.2" />
<text x="1262.86" y="422.5" font-family="Liberation Sans" font-size="18.9" font-weight="normal" font-style="normal" fill="#111" textLength="22.59" lengthAdjust="spacingAndGlyphs">LP</text>
<text x="1248.06" y="445.5" font-family="Liberation Sans" font-size="18.9" font-weight="normal" font-style="normal" fill="#111" textLength="52.89" lengthAdjust="spacingAndGlyphs">CAGE</text>
<text x="1263.06" y="665.8" font-family="Liberation Sans" font-size="18.9" font-weight="normal" font-style="normal" fill="#111" textLength="21.89" lengthAdjust="spacingAndGlyphs">LP</text>
<text x="1248.06" y="688.3" font-family="Liberation Sans" font-size="18.9" font-weight="normal" font-style="normal" fill="#111" textLength="52.89" lengthAdjust="spacingAndGlyphs">CAGE</text>
<path d="M1235.5,464.5 H1400 V630.6 H1235.5" fill="none" stroke="#111" stroke-width="1.6" />
<rect x="1235.5" y="480.5" width="13.5" height="13.5" rx="0" fill="none" stroke="#111" stroke-width="1.5" />
<text x="1238.02" y="543" font-family="Liberation Sans" font-size="19.62" font-weight="normal" font-style="normal" fill="#111" textLength="157.96" lengthAdjust="spacingAndGlyphs">36" GENERATOR</text>
<text x="1268.04" y="567" font-family="Liberation Sans" font-size="19.19" font-weight="normal" font-style="normal" fill="#111" textLength="100.42" lengthAdjust="spacingAndGlyphs">PLATFORM</text>
<line x1="1400" y1="504.4" x2="1497.5" y2="536.9" stroke="#111" stroke-width="1.6" />
<line x1="1400" y1="513.8" x2="1462.5" y2="533.8" stroke="#111" stroke-width="1.6" />
<line x1="1400" y1="592.5" x2="1497.5" y2="559.4" stroke="#111" stroke-width="1.6" />
<line x1="1400" y1="582.5" x2="1463" y2="563" stroke="#111" stroke-width="1.6" />
<line x1="1463" y1="525.6" x2="1463" y2="570.6" stroke="#111" stroke-width="1.4" />
<line x1="1400" y1="543.8" x2="1463" y2="543.8" stroke="#111" stroke-width="1.5" />
<line x1="1400" y1="551.9" x2="1463" y2="551.9" stroke="#111" stroke-width="1.5" />
<path d="M1497.5,537.2 H1510 A11,11 0 0 1 1510,559.2 H1497.5" fill="none" stroke="#111" stroke-width="1.6" />
<path d="M1500,539.5 H1510 A8.7,8.7 0 0 1 1510,556.9 H1500" fill="none" stroke="#111" stroke-width="1.0" />
<path d="M1467,537.5 L1486,548 L1467,558 Z" fill="#bbb" stroke="#111" stroke-width="1.6" />
<line x1="1435" y1="548" x2="1470.6" y2="548" stroke="#111" stroke-width="3.2" />
<line x1="1437" y1="548" x2="1469" y2="548" stroke="#ddd" stroke-width="1.2" />
<line x1="1486" y1="548" x2="1503" y2="548" stroke="#111" stroke-width="2.5" />
<line x1="1488" y1="548" x2="1501" y2="548" stroke="#ccc" stroke-width="1" />
<circle cx="1437" cy="548" r="2" fill="#111" stroke="#111" stroke-width="1.2" />
<text x="1432" y="615" font-family="Liberation Sans" font-size="19.91" font-weight="normal" font-style="normal" fill="#111" textLength="94.59" lengthAdjust="spacingAndGlyphs">60" T.T.T.</text>
<text x="0" y="0" font-family="Liberation Sans" font-size="29.94" fill="#111" textLength="45.19" lengthAdjust="spacingAndGlyphs" transform="translate(189 484.1) rotate(90)">48"</text>
<rect x="1009.3" y="428.8" width="119" height="239.2" rx="0" fill="none" stroke="#D41A1A" stroke-width="2.1" stroke-dasharray="11.5 3.8"/>
<text x="0" y="0" font-family="Liberation Sans" font-size="22.97" fill="#111" textLength="69.2" lengthAdjust="spacingAndGlyphs" transform="translate(1061 590.35) rotate(90)">WASTE</text>
<text x="0" y="0" font-family="Liberation Sans" font-size="22.09" fill="#111" textLength="55.11" lengthAdjust="spacingAndGlyphs" transform="translate(1039 596.5) rotate(90)">TANK</text>
<text x="0" y="0" font-family="Liberation Sans" font-size="29.07" fill="#EF7414" textLength="84.91" lengthAdjust="spacing" transform="translate(248.8 212.45) rotate(-90)">0" [0"]</text>
<text x="0" y="0" font-family="Liberation Sans" font-size="27.18" fill="#EF7414" textLength="134.72" lengthAdjust="spacing" transform="translate(307.5 212.36) rotate(-90)">26" [2'-2"]</text>
<text x="0" y="0" font-family="Liberation Sans" font-size="26.45" fill="#EF7414" textLength="134.65" lengthAdjust="spacing" transform="translate(367 212.32) rotate(-90)">29" [2'-5"]</text>
<text x="0" y="0" font-family="Liberation Sans" font-size="27.33" fill="#EF7414" textLength="135.73" lengthAdjust="spacing" transform="translate(578.8 212.37) rotate(-90)">62" [5'-2"]</text>
<text x="0" y="0" font-family="Liberation Sans" font-size="27.33" fill="#EF7414" textLength="149.73" lengthAdjust="spacing" transform="translate(758.8 212.37) rotate(-90)">114" [9'-6"]</text>
<text x="0" y="0" font-family="Liberation Sans" font-size="27.33" fill="#EF7414" textLength="166.23" lengthAdjust="spacing" transform="translate(866.3 212.37) rotate(-90)">134" [11'-2"]</text>
<text x="0" y="0" font-family="Liberation Sans" font-size="26.89" fill="#EF7414" textLength="182.69" lengthAdjust="spacing" transform="translate(1012 212.34) rotate(-90)">166" [13'-10"]</text>
<text x="0" y="0" font-family="Liberation Sans" font-size="26.16" fill="#EF7414" textLength="166.12" lengthAdjust="spacing" transform="translate(1055.5 212.31) rotate(-90)">174" [14'-6"]</text>
<text x="0" y="0" font-family="Liberation Sans" font-size="27.18" fill="#EF7414" textLength="166.22" lengthAdjust="spacing" transform="translate(1162.5 212.36) rotate(-90)">199" [16'-7"]</text>
<path d="M241.8,211 L241.8,328" fill="none" stroke="#EF7414" stroke-width="1.4" />
<path d="M300,211 L300,249 L362.3,285 L362.3,520.3" fill="none" stroke="#EF7414" stroke-width="1.4" />
<path d="M359,211 L359,249 L373.8,282.5 L373.8,733.8" fill="none" stroke="#EF7414" stroke-width="1.4" />
<path d="M572,211 L572,249 L527.3,282.5 L527.3,520.3" fill="none" stroke="#EF7414" stroke-width="1.4" />
<path d="M751,211 L751,249 L766.4,285 L766.4,520" fill="none" stroke="#EF7414" stroke-width="1.4" />
<path d="M860,211 L860,733.8" fill="none" stroke="#EF7414" stroke-width="1.4" />
<path d="M1005.6,211 L1005.6,334.5" fill="none" stroke="#EF7414" stroke-width="1.4" />
<path d="M1049,211 L1049,247.5 L1041.8,285 L1041.8,520.3" fill="none" stroke="#EF7414" stroke-width="1.4" />
<path d="M1155.5,211 L1155.5,318" fill="none" stroke="#EF7414" stroke-width="1.4" />
<path d="M1155.5,334.5 L1152.1,315.5 L1158.9,315.5 Z" fill="#EF7414" stroke="#EF7414" stroke-width="0.5" />
<line x1="1155.5" y1="272.5" x2="1163" y2="272.5" stroke="#EF7414" stroke-width="1.4" />
<text x="1163.66" y="282.5" font-family="Liberation Sans" font-size="26.89" font-weight="normal" font-style="normal" fill="#EF7414" textLength="98.69" lengthAdjust="spacingAndGlyphs">21" AFF</text>
<line x1="255.5" y1="224.5" x2="392" y2="224.5" stroke="#EF7414" stroke-width="1.4" />
<line x1="507" y1="224.5" x2="696.5" y2="224.5" stroke="#EF7414" stroke-width="1.4" />
<path d="M255.5,224.5 L274.5,221.1 L274.5,227.9 Z" fill="#EF7414" stroke="#EF7414" stroke-width="0.5" />
<path d="M696.5,224.5 L677.5,227.9 L677.5,221.1 Z" fill="#EF7414" stroke="#EF7414" stroke-width="0.5" />
<line x1="255.5" y1="224.5" x2="255.5" y2="334.5" stroke="#EF7414" stroke-width="1.4" />
<line x1="696.5" y1="224.5" x2="696.5" y2="334.5" stroke="#EF7414" stroke-width="1.4" />
<text x="413.91" y="220" font-family="Liberation Sans" font-size="21.8" font-weight="normal" font-style="normal" fill="#EF7414" textLength="73.18" lengthAdjust="spacingAndGlyphs">96" [8']</text>
<text x="392.8" y="243.8" font-family="Liberation Sans" font-size="20.06" font-weight="normal" font-style="normal" fill="#EF7414" textLength="115.21" lengthAdjust="spacingAndGlyphs">VENT HOOD</text>
<line x1="283" y1="282.5" x2="283" y2="343.5" stroke="#EF7414" stroke-width="1.4" />
<line x1="393.3" y1="282.5" x2="393.3" y2="334.5" stroke="#EF7414" stroke-width="1.4" />
<path d="M283,282.5 L305,279.1 L305,285.9 Z" fill="#EF7414" stroke="#EF7414" stroke-width="0.5" />
<path d="M393.3,282.5 L371.3,285.9 L371.3,279.1 Z" fill="#EF7414" stroke="#EF7414" stroke-width="0.5" />
<text x="321.5" y="276.3" font-family="Liberation Sans" font-size="20.06" font-weight="normal" font-style="normal" fill="#EF7414" textLength="33.31" lengthAdjust="spacingAndGlyphs">24"</text>
<text x="304.09" y="301.3" font-family="Liberation Sans" font-size="18.17" font-weight="normal" font-style="normal" fill="#EF7414" textLength="66.82" lengthAdjust="spacingAndGlyphs">RANGE</text>
<line x1="403.7" y1="282.4" x2="403.7" y2="334.5" stroke="#EF7414" stroke-width="1.4" />
<path d="M403.7,282.4 L425.7,279 L425.7,285.8 Z" fill="#EF7414" stroke="#EF7414" stroke-width="0.5" />
<path d="M543,282.4 L527,285.8 L527,279 Z" fill="#EF7414" stroke="#EF7414" stroke-width="0.5" />
<text x="425.48" y="287.6" font-family="Liberation Sans" font-size="18.31" font-weight="normal" font-style="normal" fill="#EF7414" textLength="100.43" lengthAdjust="spacingAndGlyphs">2) FRYERS</text>
<line x1="546.3" y1="282.4" x2="546.3" y2="334.5" stroke="#EF7414" stroke-width="1.4" />
<line x1="683.5" y1="282.4" x2="683.5" y2="334.5" stroke="#EF7414" stroke-width="1.4" />
<path d="M546.3,282.4 L565.3,279 L565.3,285.8 Z" fill="#EF7414" stroke="#EF7414" stroke-width="0.5" />
<path d="M683.5,282.4 L664.5,285.8 L664.5,279 Z" fill="#EF7414" stroke="#EF7414" stroke-width="0.5" />
<text x="577.06" y="265.3" font-family="Liberation Sans" font-size="18.9" font-weight="normal" font-style="normal" fill="#EF7414" textLength="75.89" lengthAdjust="spacingAndGlyphs">30"x24"</text>
<text x="564.06" y="289.5" font-family="Liberation Sans" font-size="18.9" font-weight="normal" font-style="normal" fill="#EF7414" textLength="100.89" lengthAdjust="spacingAndGlyphs">STANLESS</text>
<text x="587.06" y="314" font-family="Liberation Sans" font-size="18.9" font-weight="normal" font-style="normal" fill="#EF7414" textLength="58.89" lengthAdjust="spacingAndGlyphs">TABLE</text>
<text x="1351.23" y="425" font-family="Liberation Sans" font-size="25.44" font-weight="normal" font-style="normal" fill="#EF7414" textLength="201.04" lengthAdjust="spacingAndGlyphs">24" AFF MOTOR</text>
<text x="1351.32" y="455" font-family="Liberation Sans" font-size="23.55" font-weight="normal" font-style="normal" fill="#EF7414" textLength="142.35" lengthAdjust="spacingAndGlyphs">BASE PLUG</text>
<path d="M1352,430.5 L1345,430.5 L1262,480" fill="none" stroke="#EF7414" stroke-width="1.4" />
<path d="M1249.5,487.5 L1263.19,475.32 L1266.68,481.15 Z" fill="#EF7414" stroke="#EF7414" stroke-width="0.5" />
<line x1="189" y1="714" x2="242" y2="714" stroke="#EF7414" stroke-width="1.4" />
<line x1="189" y1="769" x2="242" y2="769" stroke="#EF7414" stroke-width="1.4" />
<line x1="189" y1="733" x2="189" y2="750" stroke="#EF7414" stroke-width="1.4" />
<path d="M189,714 L192.4,733 L185.6,733 Z" fill="#EF7414" stroke="#EF7414" stroke-width="0.5" />
<path d="M189,769 L185.6,750 L192.4,750 Z" fill="#EF7414" stroke="#EF7414" stroke-width="0.5" />
<path d="M189,769 L189,787 L171,787" fill="none" stroke="#EF7414" stroke-width="1.4" />
<text x="76.76" y="793" font-family="Liberation Sans" font-size="24.71" font-weight="normal" font-style="normal" fill="#EF7414" textLength="91.47" lengthAdjust="spacingAndGlyphs">12" [1']</text>
<path d="M241,389 C252,402 258,418 270,421 C282,423 290,404 305,400.5 C318,398 330,412 329,428 C328,442 318,449 296,458.3" fill="none" stroke="#D8181E" stroke-width="2.0" stroke-dasharray="7.5 5"/>
<path d="M364,769 C350,760 335,745 335,726 C335,703 352,689 373,689 C395,689 408,705 410.5,718 C412,700 420,684 440,679 C500,671 560,681 620,678 C680,674 720,682 760,715 C785,738 800,758 816,770" fill="none" stroke="#D8181E" stroke-width="2.0" stroke-dasharray="7.5 5"/>
<path d="M821,819 A19.24,19.24 0 0 1 852.03,819 A19.24,19.24 0 0 1 883.07,819 A19.24,19.24 0 0 1 914.1,819 A19.24,19.24 0 0 1 945.13,819 A19.24,19.24 0 0 1 976.17,819 A19.24,19.24 0 0 1 1007.2,819 A19.24,19.24 0 0 1 1038.23,819 A19.24,19.24 0 0 1 1069.27,819 A19.24,19.24 0 0 1 1100.3,819 A19.24,19.24 0 0 1 1131.33,819 A19.24,19.24 0 0 1 1162.37,819 A19.24,19.24 0 0 1 1193.4,819 A19.24,19.24 0 0 1 1224.43,819 A19.24,19.24 0 0 1 1255.47,819 A19.24,19.24 0 0 1 1286.5,819 A19.19,19.19 0 0 1 1290.5,849.7 A19.19,19.19 0 0 1 1294.5,880.4 A19.57,19.57 0 0 1 1262.93,880.53 A19.57,19.57 0 0 1 1231.37,880.67 A19.57,19.57 0 0 1 1199.8,880.8 A19.57,19.57 0 0 1 1168.23,880.93 A19.57,19.57 0 0 1 1136.67,881.07 A19.57,19.57 0 0 1 1105.1,881.2 A19.57,19.57 0 0 1 1073.53,881.33 A19.57,19.57 0 0 1 1041.97,881.47 A19.57,19.57 0 0 1 1010.4,881.6 A19.57,19.57 0 0 1 978.83,881.73 A19.57,19.57 0 0 1 947.27,881.87 A19.57,19.57 0 0 1 915.7,882 A19.57,19.57 0 0 1 884.13,882.13 A19.57,19.57 0 0 1 852.57,882.27 A19.57,19.57 0 0 1 821,882.4 A17.35,17.35 0 0 1 817,854.7 A17.35,17.35 0 0 1 813,827 A7.01,7.01 0 0 1 821,819 Z" fill="none" stroke="#111" stroke-width="1.6" />
<text x="824.66" y="846.6" font-family="Liberation Sans" font-size="26.74" font-weight="normal" font-style="normal" fill="#111" textLength="459.27" lengthAdjust="spacingAndGlyphs">**ALL OUTLETS ARE TO BE 18" AFF</text>
<text x="849.96" y="878.2" font-family="Liberation Sans" font-size="26.74" font-weight="normal" font-style="normal" fill="#111" textLength="407.97" lengthAdjust="spacingAndGlyphs">UNLESS OTHER WISE NOTED**</text>
<path d="M73.2,940 L444,940 L406.7,986.7 L37.2,986.7 Z" fill="none" stroke="#111" stroke-width="3" />
<path d="M1190,940 L1528.8,940 L1565,986.3 L1226.3,986.3 Z" fill="none" stroke="#111" stroke-width="3" />
<text x="93.99" y="971.5" font-family="Liberation Sans" font-size="26.16" font-weight="normal" font-style="normal" fill="#111" textLength="293.02" lengthAdjust="spacingAndGlyphs">DELUXE CONCESSION</text>
<text x="1296.13" y="971.3" font-family="Liberation Sans" font-size="27.33" font-weight="normal" font-style="normal" fill="#111" textLength="164.03" lengthAdjust="spacingAndGlyphs">FLOOR PLAN</text>
<line x1="36" y1="987.6" x2="1565.6" y2="987.6" stroke="#111" stroke-width="1.6" />
<path d="M36.3,993.8 H838.9 V1179 H54 A18,18 0 0 1 36.3,1161 Z" fill="none" stroke="#111" stroke-width="1.7" />
<text x="53.75" y="1049" font-family="Liberation Sans" font-size="45.06" font-weight="normal" font-style="normal" fill="#111" textLength="25.51" lengthAdjust="spacingAndGlyphs">S</text>
<line x1="66.5" y1="1015" x2="66.5" y2="1052" stroke="#111" stroke-width="1.6" />
<text x="100.64" y="1042.2" font-family="Liberation Sans" font-size="27.18" font-weight="normal" font-style="normal" fill="#111" textLength="114.72" lengthAdjust="spacingAndGlyphs">=SWITCH</text>
<circle cx="265.8" cy="1036.4" r="12.5" fill="none" stroke="#111" stroke-width="1.6" />
<line x1="259.2" y1="1016.3" x2="259.2" y2="1050" stroke="#111" stroke-width="1.4" />
<line x1="273.6" y1="1016.3" x2="273.6" y2="1050" stroke="#111" stroke-width="1.4" />
<text x="293.28" y="1045.4" font-family="Liberation Sans" font-size="26.45" font-weight="normal" font-style="normal" fill="#111" textLength="178.05" lengthAdjust="spacingAndGlyphs">=110V OUTLET</text>
<rect x="51.6" y="1071.5" width="25.9" height="55.5" rx="0" fill="none" stroke="#111" stroke-width="1.5" />
<text x="0" y="0" font-family="Liberation Sans" font-size="26.89" fill="#111" textLength="50.69" lengthAdjust="spacingAndGlyphs" transform="translate(56 1073.66) rotate(90)">AMP</text>
<text x="93.97" y="1107.5" font-family="Liberation Sans" font-size="26.6" font-weight="normal" font-style="normal" fill="#111" textLength="245.96" lengthAdjust="spacingAndGlyphs">=ELECTRICAL PANEL</text>
<rect x="354" y="1088.2" width="22" height="12.1" rx="1.5" fill="none" stroke="#111" stroke-width="1.5" />
<line x1="354" y1="1092.5" x2="376" y2="1092.5" stroke="#111" stroke-width="1.1" />
<text x="379.49" y="1100.5" font-family="Liberation Sans" font-size="26.16" font-weight="normal" font-style="normal" fill="#111" textLength="272.22" lengthAdjust="spacingAndGlyphs">=(LED FLOOD LIGHTS)</text>
<circle cx="65.1" cy="1156.3" r="12.8" fill="none" stroke="#111" stroke-width="1.6" />
<line x1="58.8" y1="1134" x2="58.8" y2="1177" stroke="#111" stroke-width="1.4" />
<line x1="71.8" y1="1134" x2="71.8" y2="1177" stroke="#111" stroke-width="1.4" />
<text x="84.18" y="1164.4" font-family="Liberation Sans" font-size="26.45" font-weight="normal" font-style="normal" fill="#111" textLength="207.95" lengthAdjust="spacingAndGlyphs">=2O AMP OUTLET</text>
<rect x="309" y="1123.6" width="102" height="50.4" rx="0" fill="none" stroke="#111" stroke-width="2.8" />
<rect x="315" y="1130.6" width="89.5" height="37.9" rx="0" fill="none" stroke="#111" stroke-width="1.5" />
<line x1="309" y1="1123.6" x2="315" y2="1130.6" stroke="#111" stroke-width="1.2" />
<line x1="411" y1="1123.6" x2="404.5" y2="1130.6" stroke="#111" stroke-width="1.2" />
<line x1="309" y1="1174" x2="315" y2="1168.5" stroke="#111" stroke-width="1.2" />
<line x1="411" y1="1174" x2="404.5" y2="1168.5" stroke="#111" stroke-width="1.2" />
<text x="450.68" y="1156" font-family="Liberation Sans" font-size="26.45" font-weight="normal" font-style="normal" fill="#111" textLength="161.05" lengthAdjust="spacingAndGlyphs">=LED LIGHTS</text>
<rect x="662.4" y="997" width="176.5" height="117" rx="0" fill="none" stroke="#111" stroke-width="1.6" />
<path d="M683.32,1067.11 L681.77,1066.11 L680.36,1065.05 L679.18,1063.93 L678.29,1062.73 L677.73,1061.47 L677.51,1060.14 L677.58,1058.74 L677.9,1057.3 L678.4,1055.79 L678.97,1054.21 L679.54,1052.53 L680,1050.69 L680.31,1048.51 L680.41,1045.26 L680.29,1043.13 L679.97,1041.32 L679.52,1039.66 L678.99,1038.09 L678.47,1036.6 L678.07,1035.15 L677.86,1033.76 L677.92,1032.42 L678.3,1031.15 L679.01,1029.94 L680.03,1028.79 L681.33,1027.72 L682.84,1026.72 L684.46,1025.77 L686.12,1024.87 L687.7,1024.01 L689.15,1023.15 L690.42,1022.29 L691.46,1021.41 L692.31,1020.5 L692.98,1019.56 L693.55,1018.6 L694.1,1017.61 L694.72,1016.64 L695.5,1015.7 L696.52,1014.81 L697.82,1014.02 L699.43,1013.34 L701.36,1012.78 L703.56,1012.36 L705.98,1012.08 L708.54,1011.9 L711.15,1011.8 L713.72,1011.74 L716.19,1011.68 L718.5,1011.55 L720.64,1011.33 L722.64,1010.97 L724.52,1010.45 L726.38,1009.78 L728.31,1008.99 L730.4,1008.13 L732.75,1007.28 L735.44,1006.53 L738.51,1005.98 L742,1005.71 L746.03,1005.76 L752.02,1006.14 L756.84,1006.78 L760.41,1007.59 L763.4,1008.45 L766.01,1009.25 L768.39,1009.91 L770.67,1010.38 L772.95,1010.65 L775.33,1010.72 L777.83,1010.66 L780.47,1010.52 L783.21,1010.36 L785.99,1010.24 L788.73,1010.21 L791.35,1010.32 L793.76,1010.59 L795.91,1011.02 L797.75,1011.6 L799.28,1012.32 L800.53,1013.14 L801.54,1014.02 L802.39,1014.94 L803.16,1015.86 L803.95,1016.75 L804.84,1017.61 L805.9,1018.42 L807.15,1019.18 L808.62,1019.91 L810.28,1020.63 L812.07,1021.35 L813.93,1022.09 L815.76,1022.88 L817.48,1023.73 L819,1024.66 L820.24,1025.66 L821.17,1026.73 L821.76,1027.87 L822.05,1029.07 L822.06,1030.32 L821.88,1031.61 L821.59,1032.93 L821.28,1034.28 L821.04,1035.65 L820.95,1037.06 L821.06,1038.53 L821.38,1040.07 L821.9,1041.73 L822.59,1043.57 L823.38,1045.86 L824.17,1049.09 L824.89,1051.18 L825.44,1053 L825.74,1054.67 L825.73,1056.23 L825.39,1057.7 L824.72,1059.09 L823.76,1060.4 L822.57,1061.63 L821.24,1062.8" fill="none" stroke="#111" stroke-width="3.0" />
<path d="M683.32,1067.11 L683.36,1065.92 L683.36,1064.72 L683.25,1063.52 L682.97,1062.31 L682.48,1061.08 L681.77,1059.83 L680.88,1058.54 L679.85,1057.2 L678.77,1055.77 L677.73,1054.25 L676.82,1052.59 L676.12,1050.74 L675.7,1048.53 L675.61,1045.23 L675.85,1043.07 L676.41,1041.23 L677.23,1039.58 L678.24,1038.06 L679.34,1036.64 L680.46,1035.3 L681.5,1034.02 L682.39,1032.79 L683.07,1031.58 L683.55,1030.4 L683.82,1029.22 L683.93,1028.04 L683.95,1026.87 L683.97,1025.7 L684.07,1024.55 L684.36,1023.44 L684.89,1022.37 L685.73,1021.37 L686.9,1020.45 L688.38,1019.62 L690.14,1018.88 L692.12,1018.23 L694.22,1017.65 L696.37,1017.12 L698.48,1016.62 L700.46,1016.12 L702.26,1015.6 L703.87,1015.02 L705.27,1014.37 L706.51,1013.65 L707.65,1012.85 L708.76,1012.01 L709.95,1011.15 L711.29,1010.31 L712.86,1009.54 L714.71,1008.89 L716.86,1008.4 L719.31,1008.11 L722.01,1008.04 L724.91,1008.18 L727.92,1008.5 L730.96,1008.96 L733.98,1009.47 L736.96,1009.94 L739.92,1010.28 L743.01,1010.4 L746.48,1010.26 L751.98,1009.87 L756.53,1009.26 L760.18,1008.56 L763.61,1007.86 L766.94,1007.28 L770.15,1006.91 L773.19,1006.8 L775.99,1006.95 L778.51,1007.35 L780.72,1007.96 L782.63,1008.7 L784.3,1009.53 L785.78,1010.38 L787.18,1011.19 L788.57,1011.93 L790.04,1012.58 L791.66,1013.12 L793.46,1013.58 L795.46,1013.96 L797.63,1014.29 L799.92,1014.62 L802.27,1014.98 L804.57,1015.4 L806.75,1015.9 L808.71,1016.5 L810.41,1017.2 L811.78,1018.01 L812.84,1018.92 L813.59,1019.89 L814.1,1020.93 L814.42,1022 L814.66,1023.08 L814.9,1024.16 L815.23,1025.24 L815.72,1026.3 L816.41,1027.36 L817.31,1028.41 L818.42,1029.47 L819.67,1030.56 L821.01,1031.69 L822.34,1032.87 L823.56,1034.12 L824.6,1035.44 L825.38,1036.84 L825.85,1038.33 L825.98,1039.93 L825.78,1041.64 L825.31,1043.54 L824.62,1045.85 L823.8,1049.09 L822.94,1051.15 L822.14,1052.92 L821.46,1054.52 L820.97,1056.02 L820.7,1057.45 L820.64,1058.83 L820.75,1060.18 L820.98,1061.5 L821.24,1062.8" fill="none" stroke="#111" stroke-width="3.0" />
<line x1="682.47" y1="1061.99" x2="672.68" y2="1064.86" stroke="#111" stroke-width="1.3" />
<line x1="680.01" y1="1048.86" x2="685.02" y2="1050.83" stroke="#111" stroke-width="1.3" />
<line x1="681.87" y1="1033.49" x2="671.75" y2="1034.73" stroke="#111" stroke-width="1.3" />
<line x1="688" y1="1024.06" x2="692.6" y2="1026.86" stroke="#111" stroke-width="1.3" />
<line x1="698.28" y1="1017.04" x2="688.13" y2="1016.06" stroke="#111" stroke-width="1.3" />
<line x1="712.58" y1="1012.37" x2="715.99" y2="1016.54" stroke="#111" stroke-width="1.3" />
<line x1="731.09" y1="1010.23" x2="723.67" y2="1003.24" stroke="#111" stroke-width="1.3" />
<line x1="760.71" y1="1010.02" x2="757.47" y2="1014.32" stroke="#111" stroke-width="1.3" />
<line x1="781.86" y1="1011.11" x2="788.57" y2="1003.44" stroke="#111" stroke-width="1.3" />
<line x1="797.93" y1="1014.7" x2="792.54" y2="1014.64" stroke="#111" stroke-width="1.3" />
<line x1="809.98" y1="1020.69" x2="819.31" y2="1016.58" stroke="#111" stroke-width="1.3" />
<line x1="817.96" y1="1029.01" x2="812.76" y2="1027.59" stroke="#111" stroke-width="1.3" />
<line x1="821.7" y1="1040.29" x2="831.64" y2="1037.99" stroke="#111" stroke-width="1.3" />
<line x1="821.14" y1="1057.07" x2="816.25" y2="1054.82" stroke="#111" stroke-width="1.3" />
<text x="698.46" y="1062.9" font-family="Liberation Sans" font-size="30.81" font-weight="bold" font-style="normal" fill="#111" textLength="103.88" lengthAdjust="spacingAndGlyphs">RENOWN</text>
<rect x="689.4" y="1070.3" width="121.8" height="21.7" rx="0" fill="#E4151C" stroke="#111" stroke-width="0" />
<text x="698.22" y="1086.8" font-family="Liberation Sans" font-size="15.7" font-weight="bold" font-style="normal" fill="#fff" textLength="104.07" lengthAdjust="spacingAndGlyphs">CARGO TRAILERS</text>
<text x="697.98" y="1112.6" font-family="Liberation Sans" font-size="20.35" font-weight="bold" font-style="normal" fill="#111" textLength="104.53" lengthAdjust="spacingAndGlyphs">888-287-3954</text>
<rect x="845.6" y="994" width="344.4" height="185" rx="0" fill="none" stroke="#111" stroke-width="1.7" />
<path d="M1005,1013 C1021,1017 1030,1028 1030,1040 C1030,1050 1022,1056 1010,1056" fill="none" stroke="#a8a8a8" stroke-width="5.5" stroke-dasharray="4 1.6"/>
<path d="M993.5,1029.5 L1000,1031 L999,1035 L1002,1037 L999,1041 L1001,1045 L998,1048 L1004,1051 L1002,1055 L997,1057 L993.5,1057 Z" fill="#3a3a3a" stroke="#111" stroke-width="0" />
<path d="M996,1023 L1000,1018 L1006,1022 L1006,1029 L999,1029 Z" fill="#3a3a3a" stroke="#111" stroke-width="0" />
<path d="M1001,1049 L1006,1051 L1009,1055 L1004,1058 L999,1056 Z" fill="#3a3a3a" stroke="#111" stroke-width="0" />
<circle cx="1013.3" cy="1040.3" r="6.8" fill="#444" stroke="#111" stroke-width="0" />
<text x="933.43" y="1082.3" font-family="Liberation Sans" font-size="21.37" font-weight="bold" font-style="normal" fill="#6a6a6a" textLength="158.64" lengthAdjust="spacingAndGlyphs">Drafting.tech</text>
<text x="929" y="1102" font-family="Liberation Serif" font-style="italic" font-weight="bold" font-size="13" fill="#555" textLength="165" lengthAdjust="spacingAndGlyphs">Professional Drafting Service</text>
<text x="853.58" y="1143.5" font-family="Liberation Sans" font-size="20.35" font-weight="normal" font-style="italic" fill="#111" textLength="324.93" lengthAdjust="spacingAndGlyphs">EMAIL: DRAFTING.TECH@AOL.COM</text>
<text x="910.06" y="1171.8" font-family="Liberation Sans" font-size="18.9" font-weight="normal" font-style="italic" fill="#111" textLength="210.89" lengthAdjust="spacingAndGlyphs">PHONE: (229) 658-6655</text>
<path d="M1196.3,993.5 L1565,993.5 L1565,1056.3 L1389.5,1056.3 L1389.5,1022.5 L1196.3,1022.5 Z" fill="none" stroke="#111" stroke-width="1.6" />
<rect x="1196.3" y="1028.8" width="188.2" height="27.5" rx="0" fill="none" stroke="#111" stroke-width="1.6" />
<text x="1212.58" y="1016.3" font-family="Liberation Sans" font-size="24.42" font-weight="normal" font-style="normal" fill="#111" textLength="136.64" lengthAdjust="spacingAndGlyphs">DRAWN BY:</text>
<text x="1386.32" y="1013.8" font-family="Liberation Sans" font-size="23.69" font-weight="normal" font-style="normal" fill="#111" textLength="169.87" lengthAdjust="spacingAndGlyphs">T.J. KEGEBEIN</text>
<text x="1203.04" y="1049.5" font-family="Liberation Sans" font-size="19.19" font-weight="normal" font-style="normal" fill="#111" textLength="166.72" lengthAdjust="spacingAndGlyphs">DWG #: DT-10307</text>
<path d="M1413,1040 C1417,1044 1422,1043 1423,1040 C1424,1035 1425,1024 1423,1022 C1421,1021 1417,1024 1415,1029 M1433,1029 C1435,1026 1440,1024 1442,1027 C1444,1031 1440,1041 1436,1047 C1432,1052 1425,1051 1425,1047 C1425,1043 1432,1041 1438,1038 C1442,1036 1445,1029 1446,1025 M1452,1045 C1456,1044 1462,1040 1466,1033 C1470,1026 1472,1021 1468,1020 C1464,1019 1460,1025 1461,1027 M1483,1022 C1480,1027 1476,1035 1470,1043 C1474,1045 1480,1044 1482,1038 C1483,1035 1478,1036 1477,1040 C1476,1044 1482,1046 1488,1040 C1490,1037 1487,1035 1486,1040 C1486,1046 1491,1049 1488,1054 C1485,1057 1482,1053 1486,1048 C1489,1044 1494,1042 1498,1040 C1502,1038 1503,1034 1500,1034 C1497,1034 1496,1041 1500,1042 C1504,1043 1508,1036 1510,1029 C1511,1024 1509,1022 1507,1027 C1505,1033 1506,1042 1510,1042 C1514,1042 1516,1036 1519,1036 C1517,1039 1516,1042 1520,1042 C1523,1042 1525,1037 1527,1035 C1528,1039 1528,1041 1530,1042 C1532,1036 1536,1032 1539,1033 C1542,1034 1541,1041 1543,1042 C1545,1043 1547,1040 1548,1037" fill="none" stroke="#111" stroke-width="1.3" />
<rect x="1196.3" y="1063" width="368.7" height="37.5" rx="0" fill="none" stroke="#111" stroke-width="1.6" />
<text x="1200.83" y="1094.3" font-family="Liberation Sans" font-size="33.43" font-weight="normal" font-style="normal" fill="#111" textLength="90.84" lengthAdjust="spacingAndGlyphs">Date:</text>
<text x="1350.83" y="1094.3" font-family="Liberation Sans" font-size="33.43" font-weight="normal" font-style="normal" fill="#111" textLength="179.64" lengthAdjust="spacingAndGlyphs">11/4/2022</text>
<path d="M1196.3,1107.5 H1565 V1160 A18,18 0 0 1 1547,1178.8 H1196.3 Z" fill="none" stroke="#111" stroke-width="1.6" />
<text x="1263.33" y="1135.5" font-family="Liberation Sans" font-size="33.43" font-weight="normal" font-style="normal" fill="#111" textLength="239.64" lengthAdjust="spacingAndGlyphs">TRAILER SIZE:</text>
<text x="1253.36" y="1176.3" font-family="Liberation Sans" font-size="32.7" font-weight="normal" font-style="normal" fill="#111" textLength="263.27" lengthAdjust="spacingAndGlyphs">8.5X18 TANDEM</text>
</svg>
</body></html>
